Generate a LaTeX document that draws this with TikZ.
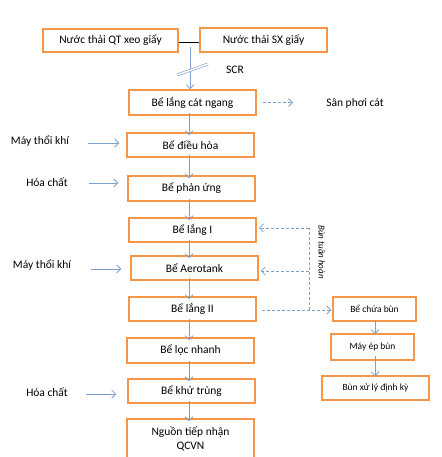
\documentclass[tikz,border=0pt]{standalone}
\usepackage{fontspec}
\setmainfont{Carlito}
\usetikzlibrary{arrows.meta}
\definecolor{boxor}{HTML}{F79646}
\definecolor{arrbl}{HTML}{7FA0CF}
\tikzset{
  box/.style={draw=boxor, line width=1.5pt, rectangle, inner sep=0pt, align=center, font=\fontsize{11.5}{14}\selectfont},
  sbox/.style={box, font=\fontsize{9.5}{11}\selectfont},
  lbl/.style={inner sep=0pt, font=\fontsize{11.5}{14}\selectfont},
  arr/.style={draw=arrbl, line width=0.8pt, -{Straight Barb[length=4pt,width=8pt]}},
  darr/.style={arr, dashed, dash pattern=on 3pt off 2pt},
  dline/.style={draw=arrbl, line width=0.8pt, dashed, dash pattern=on 3pt off 2pt}
}
\begin{document}
\begin{tikzpicture}[x=1pt,y=-1pt]
\useasboundingbox (0,0) rectangle (441,457);
\clip (0,0) rectangle (441,457);
% main column
\node[box, minimum width=135, minimum height=23] (n1) at (110.5,40.5) {Nước thải QT xeo giấy};
\node[box, minimum width=127, minimum height=24] (n2) at (263.5,40) {Nước thải SX giấy};
\node[box, minimum width=127, minimum height=25] (n3) at (192.5,102.5) {Bể lắng cát ngang};
\node[box, minimum width=127, minimum height=24] (n4) at (190.5,145) {Bể điều hòa};
\node[box, minimum width=127, minimum height=25] (n5) at (191.5,188.5) {Bể phản ứng};
\node[box, minimum width=127, minimum height=24] (n6) at (192.5,230) {Bể lắng I};
\node[box, minimum width=127, minimum height=24] (n7) at (194.5,268) {Bể Aerotank};
\node[box, minimum width=127, minimum height=24] (n8) at (192.5,309) {Bể lắng II};
\node[box, minimum width=127, minimum height=25] (n9) at (190.5,350.5) {Bể lọc nhanh};
\node[box, minimum width=127, minimum height=24] (n10) at (191.5,391) {Bể khử trùng};
\node[box, minimum width=127, minimum height=40] (n11) at (190.5,439) {Nguồn tiếp nhận\\QCVN};
% right column
\node[sbox, minimum width=83, minimum height=24] (n12) at (374.5,309) {Bể chứa bùn};
\node[sbox, minimum width=83, minimum height=26] (n13) at (372.5,347) {Máy ép bùn};
\node[sbox, minimum width=107, minimum height=24] (n14) at (375.5,388) {Bùn xử lý định kỳ};
% labels
\node[lbl] (scr) at (235,70) {SCR};
\node[lbl] (sp) at (355,103) {Sân phơi cát};
\node[lbl] (m1) at (40,141) {Máy thổi khí};
\node[lbl] (h1) at (47,182) {Hóa chất};
\node[lbl] (m2) at (42,265) {Máy thổi khí};
\node[lbl] (h2) at (47,392) {Hóa chất};
\node[lbl, rotate=-90, font=\fontsize{9}{11}\selectfont\itshape] (bt) at (322,252) {Bùn tuần hoàn};
% join of the two sources
\draw[black, line width=0.6pt] (n1.east |- 0,42) -- (n2.west |- 0,42);
\coordinate (j) at (190,47);
\coordinate (a) at (189,0);
\draw[arr] (j) -- (j |- n3.north);
\draw[draw=arrbl, line width=0.6pt, double=white, double distance=1.6pt] (177,75) -- (208,64);
% main vertical arrows
\draw[arr] ([yshift=3]n3.south -| a) -- ([yshift=-3]n4.north -| a);
\draw[arr] ([yshift=3]n4.south -| a) -- ([yshift=-3]n5.north -| a);
\draw[arr] ([yshift=3]n5.south -| a) -- ([yshift=-3]n6.north -| a);
\draw[arr] ([yshift=3]n6.south -| a) -- ([yshift=-3]n7.north -| a);
\draw[arr] ([yshift=3]n7.south -| a) -- ([yshift=-3]n8.north -| a);
\draw[arr] ([yshift=3]n8.south -| a) -- ([yshift=-3]n9.north -| a);
\draw[arr] ([yshift=3]n9.south -| a) -- ([yshift=-3]n10.north -| a);
\draw[arr] ([yshift=3]n10.south -| a) -- ([yshift=-3]n11.north -| a);
% right column arrows
\coordinate (b) at (375,0);
\draw[arr] ([yshift=2]n12.south -| b) -- ([yshift=-1]n13.north -| b);
\draw[arr] ([yshift=5]n13.south -| b) -- ([yshift=-1]n14.north -| b);
% side inputs
\draw[arr] ([xshift=19]m1.east |- 0,143) -- ([xshift=-7]n4.west |- 0,143);
\draw[arr] ([xshift=21]h1.east |- 0,183) -- ([xshift=-9]n5.west |- 0,183);
\draw[arr] ([xshift=20]m2.east |- 0,269) -- ([xshift=-9]n7.west |- 0,269);
\draw[arr] ([xshift=18]h2.east |- 0,394) -- ([xshift=-11]n10.west |- 0,394);
% sand drying
\draw[darr] ([xshift=6]n3.east) -- ([xshift=-33]sp.west |- n3.east);
% sludge
\coordinate (r1) at (309,228);
\coordinate (r2) at (309,310);
\coordinate (r3) at (309,271);
\draw[darr] ([xshift=5]n8.east |- r2) -- ([xshift=-1]n12.west |- r2);
\draw[dline] (r2) -- (r1);
\draw[darr] (r1) -- ([xshift=2]n6.east |- r1);
\draw[darr] (r3) -- ([xshift=2]n7.east |- r3);
\end{tikzpicture}
\end{document}
